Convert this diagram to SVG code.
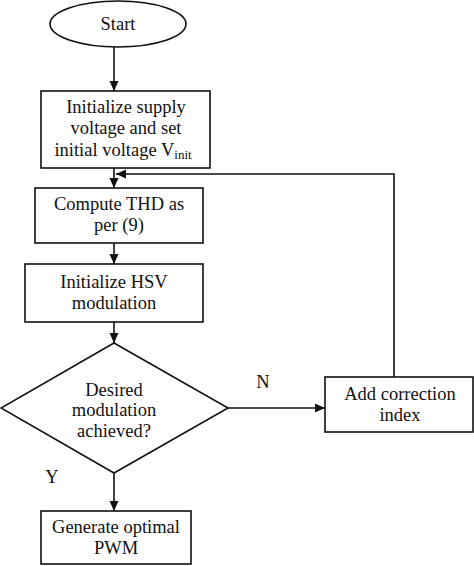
<svg xmlns="http://www.w3.org/2000/svg" width="474" height="566" viewBox="0 0 474 566">
<style>
.s{fill:#fff;stroke:#111;stroke-width:1.6}
.c{fill:none;stroke:#111;stroke-width:1.6}
text{font-family:"Liberation Serif","Times New Roman",serif;font-size:18.5px;fill:#111;text-anchor:middle}
</style>
<defs>
<marker id="a" viewBox="0 0 10 10" refX="10" refY="5" markerWidth="10" markerHeight="10" markerUnits="userSpaceOnUse" orient="auto">
<path d="M0,0.5 L10,5 L0,9.5 Z" fill="#111"/>
</marker>
</defs>
<rect width="474" height="566" fill="#fff"/>
<g id="connectors">
<line class="c" x1="114" y1="47" x2="114" y2="91" marker-end="url(#a)"/>
<line class="c" x1="114" y1="168" x2="114" y2="188" marker-end="url(#a)"/>
<line class="c" x1="114" y1="243" x2="114" y2="264" marker-end="url(#a)"/>
<line class="c" x1="114" y1="322" x2="114" y2="343" marker-end="url(#a)"/>
<line class="c" x1="228" y1="408" x2="325" y2="408" marker-end="url(#a)"/>
<line class="c" x1="114" y1="473" x2="114" y2="511" marker-end="url(#a)"/>
<polyline class="c" points="394,377 394,174 116,174" marker-end="url(#a)"/>
<text x="263" y="388">N</text>
<text x="52" y="483">Y</text>
</g>
<g id="start">
<ellipse class="s" cx="118" cy="24" rx="68" ry="23"/>
<text x="118" y="30">Start</text>
</g>
<g id="init">
<rect class="s" x="41" y="91" width="169" height="77"/>
<text x="126" y="113">Initialize supply</text>
<text x="126" y="134">voltage and set</text>
<text x="123" y="156">initial voltage V<tspan font-size="13" dy="3">init</tspan></text>
</g>
<g id="thd">
<rect class="s" x="35" y="188" width="168" height="55"/>
<text x="119" y="210">Compute THD as</text>
<text x="119" y="231">per (9)</text>
</g>
<g id="hsv">
<rect class="s" x="25" y="264" width="178" height="58"/>
<text x="114" y="288">Initialize HSV</text>
<text x="114" y="309">modulation</text>
</g>
<g id="decision">
<polygon class="s" points="114,343 228,408 114,473 1,408"/>
<text x="114" y="396">Desired</text>
<text x="114" y="416">modulation</text>
<text x="114" y="437">achieved?</text>
</g>
<g id="correction">
<rect class="s" x="325" y="377" width="148" height="55"/>
<text x="400" y="400">Add correction</text>
<text x="400" y="421">index</text>
</g>
<g id="pwm">
<rect class="s" x="41" y="511" width="150" height="53"/>
<text x="116" y="533">Generate optimal</text>
<text x="116" y="554">PWM</text>
</g>
</svg>
